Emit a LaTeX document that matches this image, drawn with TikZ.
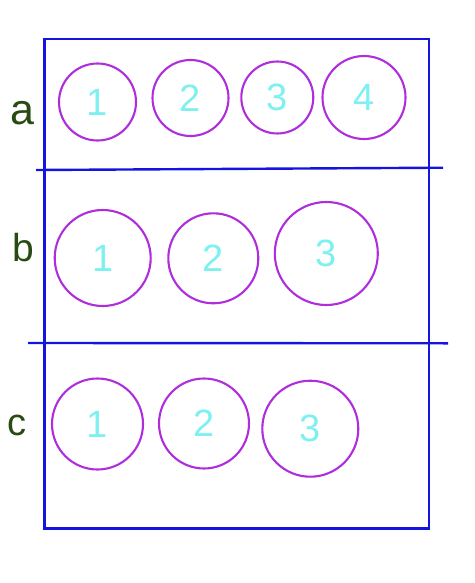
\documentclass[tikz,border=0pt]{standalone}
\usepackage{fontspec}
\setmainfont{Liberation Sans}
\definecolor{frameblue}{RGB}{20,20,225}
\definecolor{ringviolet}{RGB}{175,45,220}
\definecolor{digitcyan}{RGB}{125,240,240}
\definecolor{rowgreen}{RGB}{40,75,20}
\begin{document}
\begin{tikzpicture}[x=1pt, y=-1pt, thick]
		
		% Styles
		\tikzstyle{ring} = [draw=ringviolet, line width=2.1pt, circle, inner sep=0pt, text=digitcyan, font=\fontsize{38}{38}\selectfont];
		\tikzstyle{rowname} = [text=rowgreen, inner sep=0pt];
		\tikzstyle{frame} = [draw=frameblue, line width=2.4pt];
		
		\useasboundingbox (0,0) rectangle (474,583);
		
		% Frame
		\draw[frame] (44.5,39) rectangle (429,528.5);
		\draw[frame] (36,170) -- (443,167.7);
		\draw[frame] (28,343) -- (448,343.3);
		
		% Row names
		\node[rowname, font=\fontsize{43}{43}\selectfont] (a) at (22,113) {a};
		\node[rowname, font=\fontsize{39}{39}\selectfont] (b) at (23.3,248) {b};
		\node[rowname, font=\fontsize{38}{38}\selectfont] (c) at (16.7,425) {c};
		
		% Row a
		\node[ring, minimum size=77pt] (a1) at (97.5,102) {1};
		\node[ring, minimum size=76pt] (a2) at (190.5,98) {2};
		\node[ring, minimum size=72pt] (a3) at (277.3,97.5) {3};
		\node[ring, minimum size=83pt] (a4) at (364,97.5) {4};
		
		% Row b
		\node[ring, minimum size=96pt] (b1) at (102.7,258) {1};
		\node[ring, minimum size=90pt] (b2) at (213.3,258.3) {2};
		\node[ring, minimum size=103pt] (b3) at (326.3,253.5) {3};
		
		% Row c
		\node[ring, minimum size=91pt] (c1) at (97.5,424) {1};
		\node[ring, minimum size=90pt] (c2) at (204,423.5) {2};
		\node[ring, minimum size=96pt] (c3) at (310.3,428.7) {3};
		
	\end{tikzpicture}
\end{document}
